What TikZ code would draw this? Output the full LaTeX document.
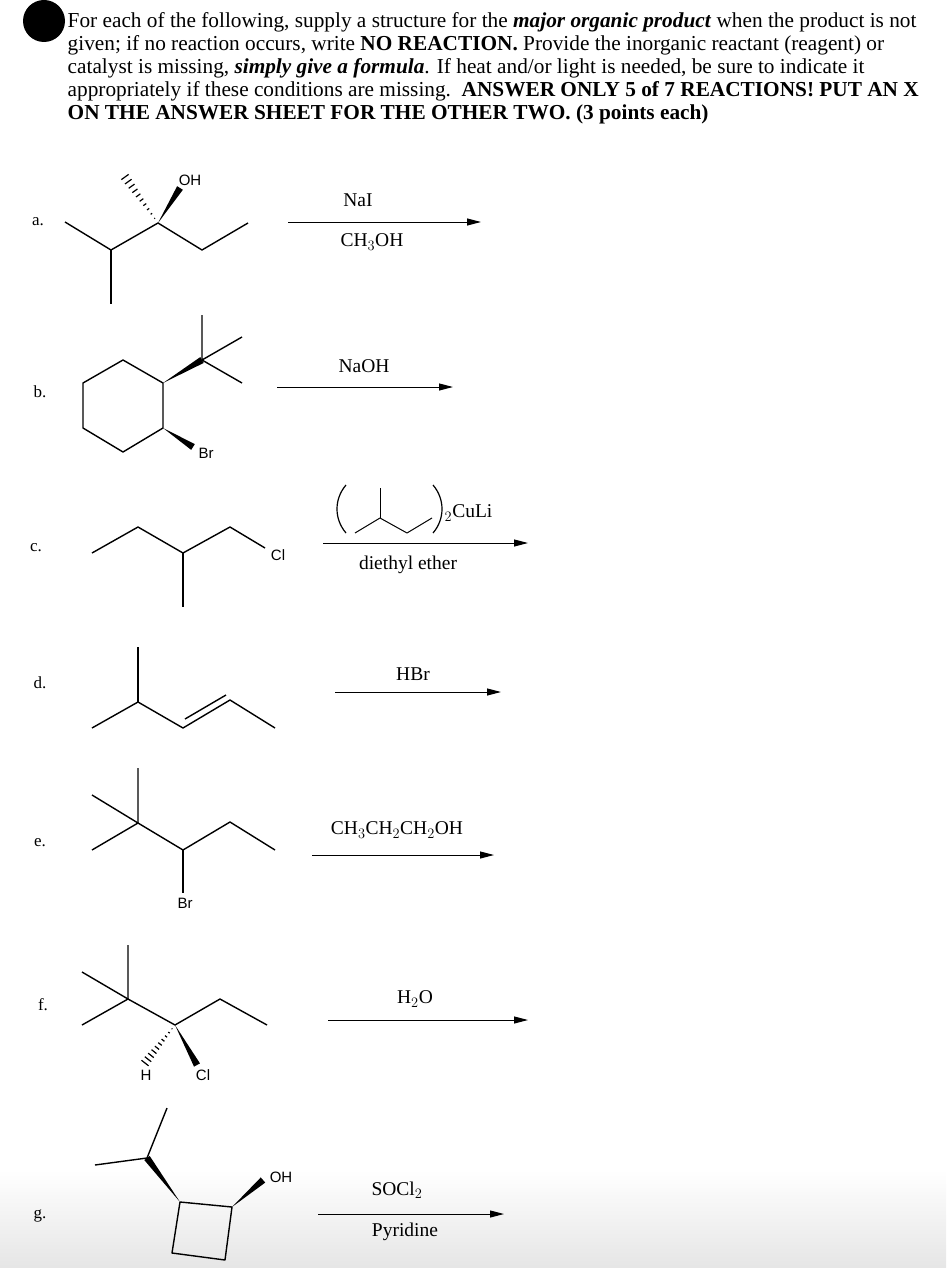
\documentclass[tikz,border=0pt]{standalone}
\usepackage{fontspec}
\setmainfont{Liberation Serif}
\newfontfamily\arial{Liberation Sans}
\usetikzlibrary{calc,arrows.meta}
\newcommand{\mywedge}[2]{\fill ($(#1)$) -- ($(#2)!3.4pt!90:(#1)$) -- ($(#2)!3.4pt!-90:(#1)$) -- cycle;}
\newcommand{\myhash}[2]{\foreach \t in {0.1,0.2,...,1.0}{\coordinate (HP) at ($(#1)!\t!(#2)$); \draw[line width=1.2pt] ($(HP)!{4.5pt*\t}!90:(#2)$) -- ($(HP)!{4.5pt*\t}!-90:(#2)$);}}
\begin{document}
\begin{tikzpicture}[x=1pt,y=-1pt,line width=1.4pt,line join=round,
  hdr/.style={anchor=base west,inner sep=0,font=\fontsize{21.3}{24}\selectfont},
  rg/.style={font=\fontsize{19.5}{22}\selectfont,inner sep=1pt},
  atom/.style={font=\arial\fontsize{15}{17}\selectfont,inner sep=0.5pt},
  lab/.style={font=\fontsize{17}{20}\selectfont,inner sep=0},
  rxn/.style={line width=1pt,-{Triangle[length=14pt,width=7pt]}}]
\useasboundingbox (0,0) rectangle (946,1268);
\shade[top color=white,bottom color=black!10] (0,1170) rectangle (946,1268);
\fill (44,21) circle (21);
\node[hdr] (h1) at (67,28) {For each of the following, supply a structure for the \textbf{\textit{major organic product}} when the product is not};
\node[hdr] (h2) at (67,51) {given; if no reaction occurs, write \textbf{NO REACTION.} Provide the inorganic reactant (reagent) or};
\node[hdr] (h3) at (67,74) {catalyst is missing, \textbf{\textit{simply give a formula}}. If heat and/or light is needed, be sure to indicate it};
\node[hdr] (h4) at (67,97) {appropriately if these conditions are missing.\ \ \textbf{ANSWER ONLY 5 of 7 REACTIONS! PUT AN X}};
\node[hdr] (h5) at (67,120) {\textbf{ON THE ANSWER SHEET FOR THE OTHER TWO. (3 points each)}};
% labels
\node[lab] (la) at (38,222) {a.};
\node[lab] (lb) at (40,392) {b.};
\node[lab] (lc) at (36,548) {c.};
\node[lab] (ld) at (40,683) {d.};
\node[lab] (le) at (40,843) {e.};
\node[lab] (lf) at (43,1005) {f.};
\node[lab] (lg) at (40,1216) {g.};
% a
\coordinate (a1) at (158,223); \coordinate (aOH) at (180,188); \coordinate (aMe) at (125,177);
\draw (65,222) -- (111,250) -- (a1) -- (202,250) -- (248,223);
\draw (111,250) -- (111,304);
\mywedge{a1}{aOH}
\myhash{a1}{aMe}
\node[atom] (oa) at (190,180) {OH};
% b
\coordinate (b1) at (163,383); \coordinate (b2) at (163,428); \coordinate (bq) at (202,360); \coordinate (bBr) at (193,447);
\draw (123,360) -- (b1) -- (b2) -- (123,452) -- (83,428) -- (83,383) -- cycle;
\draw (202,315) -- (bq) -- (242,337); \draw (bq) -- (242,383);
\mywedge{b1}{bq}
\mywedge{b2}{bBr}
\node[atom] (brb) at (206,453) {Br};
% c
\draw (92,553) -- (138,527) -- (183,553) -- (230,527) -- (265,548);
\draw (183,553) -- (183,607);
\node[atom] (clc) at (278,555) {Cl};
% d
\draw (92,728) -- (138,702) -- (183,728) -- (230,700) -- (275,728);
\draw (138,702) -- (138,647);
\draw (185,719) -- (226,695);
% e
\draw (92,795) -- (138,823) -- (92,850); \draw (138,768) -- (138,823) -- (183,850) -- (230,822) -- (275,850);
\draw (183,850) -- (183,893);
\node[atom] (bre) at (185,903) {Br};
% f
\coordinate (f1) at (175,1025); \coordinate (fH) at (145,1063); \coordinate (fCl) at (197,1065);
\draw (82,972) -- (128,999) -- (82,1025); \draw (128,945) -- (128,999) -- (f1) -- (220,999) -- (267,1025);
\mywedge{f1}{fCl}
\myhash{f1}{fH}
\node[atom] (hf) at (146,1075) {H};
\node[atom] (clf) at (203,1075) {Cl};
% g
\coordinate (g1) at (180,1202); \coordinate (g2) at (232,1207); \coordinate (gC) at (147,1158); \coordinate (gO) at (263,1180);
\draw (167,1108) -- (gC) -- (95,1165);
\draw (g1) -- (g2) -- (225,1260) -- (172,1253) -- cycle;
\mywedge{g1}{gC}
\mywedge{g2}{gO}
\node[atom] (ohg) at (281,1177) {OH};
% arrows
\coordinate (as) at (288,222); \coordinate (ae) at (481,222);
\draw[rxn] (as) -- (ae);
\node[rg] (ra1) at (358,200) {NaI};
\node[rg] (ra2) at (372,242) {CH$_3$OH};
\coordinate (bs) at (277,387); \coordinate (be) at (453,387);
\draw[rxn] (bs) -- (be);
\node[rg] (rb) at (364,366) {NaOH};
\coordinate (cs) at (323,543); \coordinate (ce) at (528,543);
\draw[rxn] (cs) -- (ce);
\draw[line width=1.2pt] (346,485) .. controls (334,499) and (334,519) .. (346,533);
\draw[line width=1.2pt] (433,485) .. controls (445,499) and (445,519) .. (433,533);
\draw[line width=1pt] (355,533) -- (380,518) -- (407,533) -- (432,518); \draw[line width=1pt] (380,518) -- (380,488);
\node[rg,anchor=west] (rc1) at (443,513) {$_2$CuLi};
\node[rg] (rc2) at (408,565) {diethyl ether};
\coordinate (ds) at (335,692); \coordinate (de) at (501,692);
\draw[rxn] (ds) -- (de);
\node[rg] (rd) at (413,674) {HBr};
\coordinate (es) at (312,855); \coordinate (ee) at (494,855);
\draw[rxn] (es) -- (ee);
\node[rg] (re) at (397,830) {CH$_3$CH$_2$CH$_2$OH};
\coordinate (fs) at (328,1020); \coordinate (fe) at (528,1020);
\draw[rxn] (fs) -- (fe);
\node[rg] (rf) at (415,999) {H$_2$O};
\coordinate (gs) at (318,1214); \coordinate (ge) at (504,1214);
\draw[rxn] (gs) -- (ge);
\node[rg] (rg1) at (397,1190) {SOCl$_2$};
\node[rg] (rg2) at (405,1232) {Pyridine};
\end{tikzpicture}
\end{document}
